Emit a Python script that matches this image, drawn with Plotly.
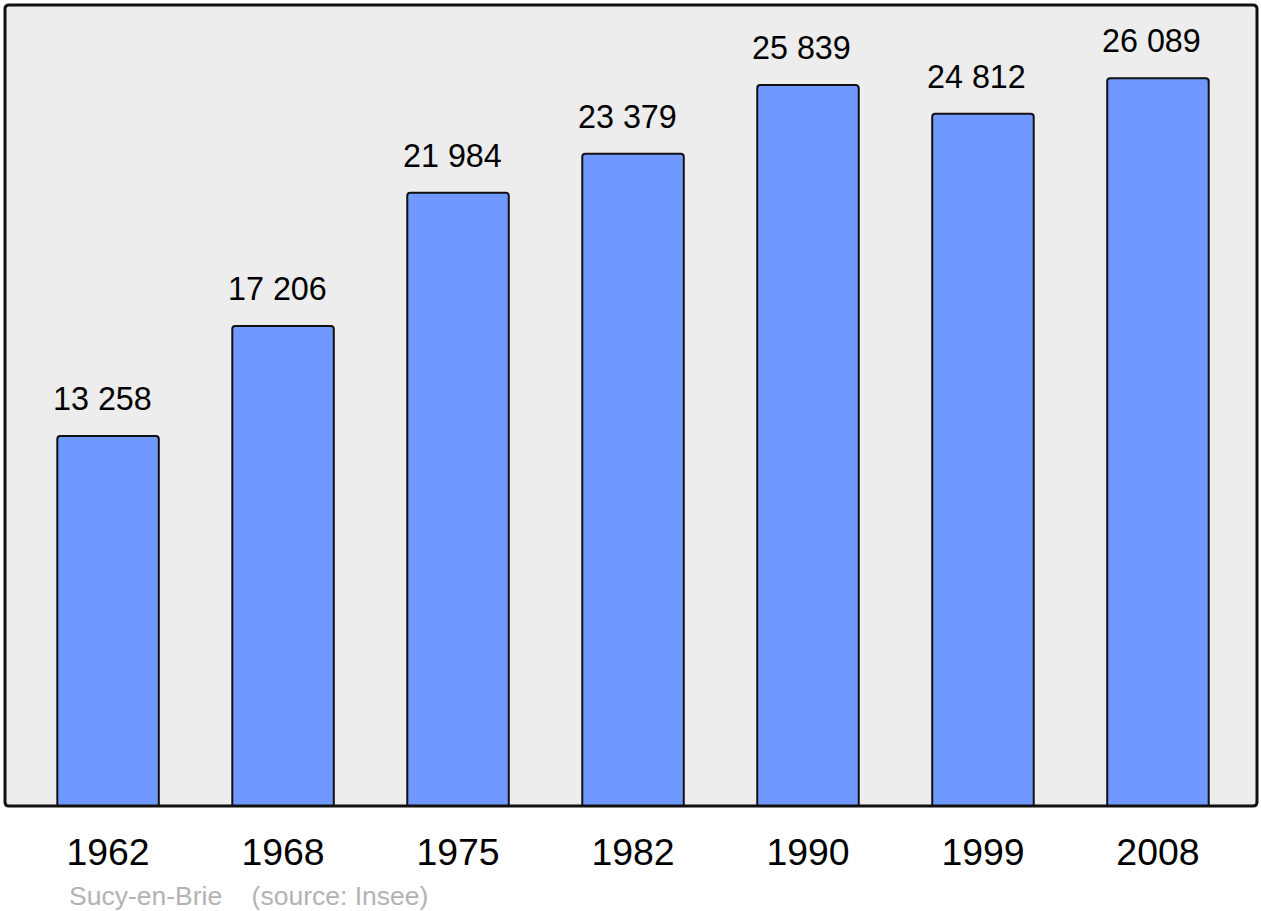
import plotly.graph_objects as go

years = ["1962", "1968", "1975", "1982", "1990", "1999", "2008"]
population = [13258, 17206, 21984, 23379, 25839, 24812, 26089]
value_labels = ["13 258", "17 206", "21 984", "23 379", "25 839", "24 812", "26 089"]
source_text = "Sucy-en-Brie    (source: Insee)"

FONT = "Liberation Sans, Arial, sans-serif"
W, H = 1261, 911
ML, MR, MT, MB = 5, 4, 5, 105
PW, PH = W - ML - MR, H - MT - MB

xpos = list(range(len(years)))

fig = go.Figure()
fig.add_trace(go.Bar(
    x=xpos, y=population, width=0.58,
    marker=dict(color="#7099ff", line=dict(color="#111111", width=2), cornerradius=3),
    hoverinfo="skip",
))

for xi, v, lab in zip(xpos, population, value_labels):
    fig.add_annotation(x=xi, y=v, text=lab, showarrow=False, xanchor="center",
                       yanchor="bottom", yshift=17, xshift=-6,
                       font=dict(family=FONT, size=32.3, color="#000000"))

fig.add_annotation(xref="paper", yref="paper", x=(67 - ML) / PW, y=-(896 - MT - PH) / PH,
                   text=source_text, showarrow=False, xanchor="left", yanchor="middle",
                   font=dict(family=FONT, size=26.5, color="#b3b3b3"))

r = 4
path = (f"M {r},0 L {PW - r},0 Q {PW},0 {PW},{r} L {PW},{PH - r} Q {PW},{PH} {PW - r},{PH} "
        f"L {r},{PH} Q 0,{PH} 0,{PH - r} L 0,{r} Q 0,0 {r},0 Z")
fig.add_shape(type="path", xref="paper", yref="paper", xsizemode="pixel", ysizemode="pixel",
              xanchor=0, yanchor=0, path=path, line=dict(color="#111111", width=3), layer="above")

fig.update_layout(
    width=W, height=H,
    margin=dict(l=ML, r=MR, t=MT, b=MB),
    paper_bgcolor="#ffffff", plot_bgcolor="#ededed",
    showlegend=False,
    xaxis=dict(range=[-0.589, 6.566], tickvals=xpos, ticktext=years, showgrid=False,
               zeroline=False, ticks="", tickfont=dict(family=FONT, size=37.4, color="#000000"),
               ticklabelstandoff=21),
    yaxis=dict(range=[0, 28710], showticklabels=False, showgrid=False, zeroline=False, ticks=""),
)

fig.write_html("out.html", config={"displayModeBar": False},
               post_script="document.body.style.margin='0';document.body.style.overflow='hidden';")
